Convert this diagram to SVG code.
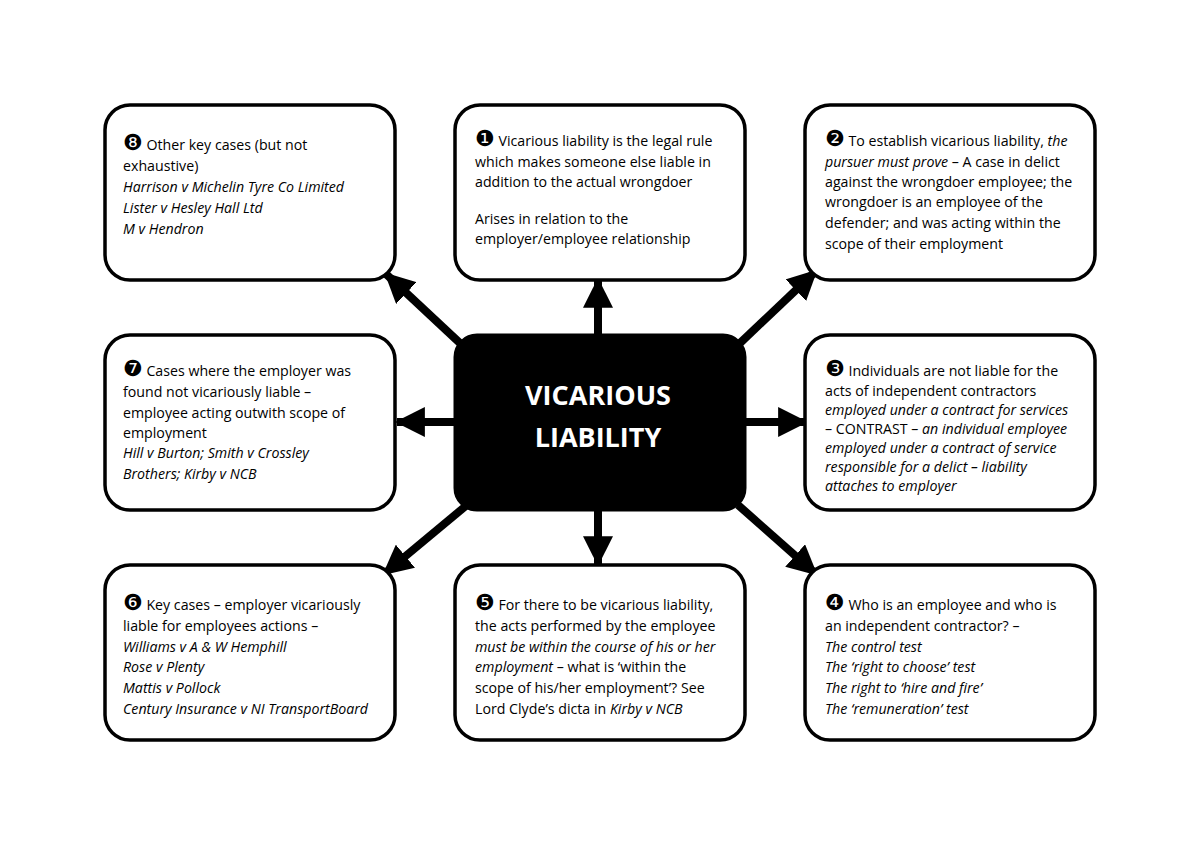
<svg xmlns="http://www.w3.org/2000/svg" width="1200" height="849" viewBox="0 0 1200 849">
<defs>
<style>
.box{fill:#fff;stroke:#000;stroke-width:3.5}
.t{font-family:"Open Sans","Liberation Sans",sans-serif;font-size:14.2px;fill:#000}
.i{font-style:italic}
.n{font-family:"DejaVu Sans",sans-serif;font-size:22px}
.c{stroke:#000;stroke-width:8;fill:none;marker-end:url(#ah)}
</style>
<marker id="ah" markerUnits="userSpaceOnUse" markerWidth="30" markerHeight="30" refX="26" refY="14" orient="auto" viewBox="0 0 28 28"><path d="M0,0 L28,14 L0,28 z" fill="#000"/></marker>
</defs>
<rect width="1200" height="849" fill="#fff"/>
<g id="connectors">
<line class="c" x1="598" y1="335" x2="598" y2="280"/>
<line class="c" x1="462" y1="345" x2="386" y2="274"/>
<line class="c" x1="738" y1="345" x2="816" y2="271"/>
<line class="c" x1="455" y1="422" x2="397" y2="422"/>
<line class="c" x1="745" y1="422" x2="806" y2="422"/>
<line class="c" x1="467" y1="505" x2="384" y2="574"/>
<line class="c" x1="598" y1="510" x2="598" y2="564"/>
<line class="c" x1="738" y1="505" x2="816" y2="574"/>
</g>
<g id="center"><rect x="455" y="335" width="290" height="175" rx="22" fill="#000" stroke="#000" stroke-width="3"/>
<text x="598" y="405" text-anchor="middle" font-family="'Open Sans','Liberation Sans',sans-serif" font-weight="bold" font-size="27" fill="#fff">VICARIOUS</text>
<text x="598" y="447" text-anchor="middle" font-family="'Open Sans','Liberation Sans',sans-serif" font-weight="bold" font-size="27" fill="#fff">LIABILITY</text></g>
<g id="n8"><rect class="box" x="105" y="105" width="290" height="175" rx="25"/>
<text class="t"><tspan x="123" y="150"><tspan class="n">❽</tspan> Other key cases (but not</tspan><tspan x="123" y="171">exhaustive)</tspan><tspan class="i" x="123" y="192">Harrison v Michelin Tyre Co Limited</tspan><tspan class="i" x="123" y="213">Lister v Hesley Hall Ltd</tspan><tspan class="i" x="123" y="234">M v Hendron</tspan></text></g>
<g id="n1"><rect class="box" x="455" y="105" width="290" height="175" rx="25"/>
<text class="t"><tspan x="475" y="146"><tspan class="n">❶</tspan> Vicarious liability is the legal rule</tspan><tspan x="475" y="167">which makes someone else liable in</tspan><tspan x="475" y="187">addition to the actual wrongdoer</tspan><tspan x="475" y="224">Arises in relation to the</tspan><tspan x="475" y="244">employer/employee relationship</tspan></text></g>
<g id="n2"><rect class="box" x="805" y="105" width="290" height="175" rx="25"/>
<text class="t"><tspan x="825" y="146"><tspan class="n">❷</tspan> To establish vicarious liability, <tspan class="i">the</tspan></tspan><tspan x="825" y="167"><tspan class="i">pursuer must prove</tspan> – A case in delict</tspan><tspan x="825" y="187">against the wrongdoer employee; the</tspan><tspan x="825" y="207">wrongdoer is an employee of the</tspan><tspan x="825" y="228">defender; and was acting within the</tspan><tspan x="825" y="249">scope of their employment</tspan></text></g>
<g id="n7"><rect class="box" x="105" y="335" width="290" height="175" rx="25"/>
<text class="t"><tspan x="123" y="376"><tspan class="n">❼</tspan> Cases where the employer was</tspan><tspan x="123" y="397">found not vicariously liable –</tspan><tspan x="123" y="418">employee acting outwith scope of</tspan><tspan x="123" y="438">employment</tspan><tspan class="i" x="123" y="458">Hill v Burton; Smith v Crossley</tspan><tspan class="i" x="123" y="479">Brothers; Kirby v NCB</tspan></text></g>
<g id="n3"><rect class="box" x="805" y="335" width="290" height="175" rx="25"/>
<text class="t"><tspan x="825" y="376"><tspan class="n">❸</tspan> Individuals are not liable for the</tspan><tspan x="825" y="396">acts of independent contractors</tspan><tspan class="i" x="825" y="415">employed under a contract for services</tspan><tspan x="825" y="434">– CONTRAST – <tspan class="i">an individual employee</tspan></tspan><tspan class="i" x="825" y="453">employed under a contract of service</tspan><tspan class="i" x="825" y="472">responsible for a delict – liability</tspan><tspan class="i" x="825" y="491">attaches to employer</tspan></text></g>
<g id="n6"><rect class="box" x="105" y="565" width="290" height="175" rx="25"/>
<text class="t"><tspan x="123" y="610"><tspan class="n">❻</tspan> Key cases – employer vicariously</tspan><tspan x="123" y="631">liable for employees actions –</tspan><tspan class="i" x="123" y="652">Williams v A &amp; W Hemphill</tspan><tspan class="i" x="123" y="672">Rose v Plenty</tspan><tspan class="i" x="123" y="693">Mattis v Pollock</tspan><tspan class="i" x="123" y="714">Century Insurance v NI TransportBoard</tspan></text></g>
<g id="n5"><rect class="box" x="455" y="565" width="290" height="175" rx="25"/>
<text class="t"><tspan x="475" y="610"><tspan class="n">❺</tspan> For there to be vicarious liability,</tspan><tspan x="475" y="631">the acts performed by the employee</tspan><tspan class="i" x="475" y="652">must be within the course of his or her</tspan><tspan x="475" y="672"><tspan class="i">employment</tspan> – what is ‘within the</tspan><tspan x="475" y="693">scope of his/her employment’? See</tspan><tspan x="475" y="714">Lord Clyde’s dicta in <tspan class="i">Kirby v NCB</tspan></tspan></text></g>
<g id="n4"><rect class="box" x="805" y="565" width="290" height="175" rx="25"/>
<text class="t"><tspan x="825" y="610"><tspan class="n">❹</tspan> Who is an employee and who is</tspan><tspan x="825" y="631">an independent contractor? –</tspan><tspan class="i" x="825" y="652">The control test</tspan><tspan class="i" x="825" y="672">The ‘right to choose’ test</tspan><tspan class="i" x="825" y="693">The right to ‘hire and fire’</tspan><tspan class="i" x="825" y="714">The ‘remuneration’ test</tspan></text></g>
</svg>
